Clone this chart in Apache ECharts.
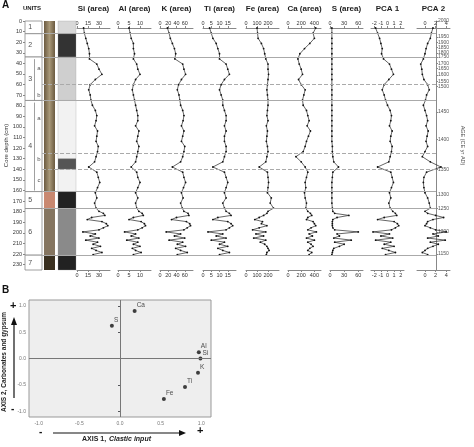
<!DOCTYPE html>
<html><head><meta charset="utf-8">
<script src="https://cdn.jsdelivr.net/npm/echarts@6/dist/echarts.min.js"></script>
<style>html,body{margin:0;padding:0;background:#fff}#c{width:474px;height:447px}</style>
</head><body><div id="c"></div>
<script>
const depths = [0,5,10,15,20,25,30,35,40,45,50,55,60,65,70,75,80,85,90,95,100,105,110,115,120,125,130,135,140,145,150,155,160,165,170,175,
178,180,182,184,186,188,190,192,194,196,198,200,202,204,206,208,210,212,214,216,218,220];
const si = [9,10,12,14,16,17,17,27,30,34,25,18,16,18,19,21,25,27,26,24,28,27,26,29,28,26,24,16,27,29,31,28,25,27,24,26,
30,36,38,20,14,34,40,42,36,30,8,25,18,30,12,28,22,32,20,26,34,22];
const al = [5,5.5,6,7,7,7.5,7,8.5,9,10,8,7,6.5,7,7.5,8,8.5,9,9,8,9.5,9,8.5,9.5,9,8.5,8,6,8.5,9,10,9,8,9,8,8.5,
9.5,11,11.5,7,5,10.5,12,12.5,11,9,3,8,6,9.5,4,9,7,10,6.5,8,10.5,7];
const k = [18,22,25,30,35,38,36,55,58,62,52,45,42,46,48,50,55,58,56,52,58,55,52,60,58,55,50,30,55,58,62,57,52,56,50,54,
58,68,70,40,28,64,72,74,66,58,15,50,35,60,22,55,42,62,38,50,66,42];
const ti = [4,5,6,8,9,10,10,14,15,16,13,11,10,11,12,12,13,14,14,13,14,13,13,14,14,13,12,6,13,14,15,14,13,14,12,13,
14,16,17,9,6,15,17,18,16,14,3,12,8,14,5,13,10,15,9,12,16,10];
const fe = [100,105,110,140,160,170,180,200,200,205,200,195,190,195,200,200,195,190,200,185,195,190,185,195,200,190,180,120,195,200,205,200,195,230,220,250,
200,190,160,120,80,150,140,190,120,60,180,90,160,70,180,130,170,190,200,210,190,185];
const ca = [420,380,400,330,250,180,150,170,200,220,160,200,260,240,220,230,280,300,320,290,340,310,280,260,230,120,200,260,300,280,260,270,250,260,280,270,
300,340,360,300,280,380,400,420,350,300,430,320,370,280,400,300,350,380,330,300,360,320];
const s = [4,4,4,4,4,4,4,4,4,4,4,4,4,4,4,4,4,4,4,4,4,4,4,5,5,6,8,18,6,5,4,4,4,4,4,5,
6,10,40,15,6,5,5,5,6,10,60,15,20,8,45,10,30,20,8,6,5,4];
const pca1 = [-1.8,-1.5,-1.2,-1,-0.8,-0.9,-0.6,0.3,0.6,0.9,0.2,-0.5,-0.8,-0.5,-0.3,0,0.4,0.6,0.5,0.3,0.7,0.5,0.4,0.7,0.6,0.4,0.2,-1.5,0.5,0.7,0.9,0.6,0.3,0.5,0.2,0.4,
0.8,1.2,1.4,-0.5,-1.5,1.0,1.5,1.7,1.2,0.6,-2.2,0.3,-1,0.8,-1.8,0.5,-0.5,1.0,-0.8,0.2,1.2,-0.3];
const pca2 = [1.5,1.2,1.0,0.5,0.2,0,-0.3,-0.8,-0.6,-0.5,-0.2,0.5,0.8,0.3,0.1,-0.3,0,0.3,0.5,0.2,0.6,0.4,0.2,0.5,0,-0.5,1.0,3.0,0.3,-0.2,-0.3,-0.2,0,0.5,0.8,1.0,
0,0.5,2.0,3.5,1.5,0.5,0.3,0,1,2,4,1.5,2.5,0.5,3.8,1,2.5,1.5,0.5,0,-0.5,0.5];
const panelTitles = ['Si (area)','Al (area)','K (area)','Ti (area)','Fe (area)','Ca (area)','S (area)','PCA 1','PCA 2'];
const panelData = [si,al,k,ti,fe,ca,s,pca1,pca2];
const panelMin = [0,0,0,0,0,0,0,-2.5,-1.5];
const panelMax = [45,15,80,20,300,500,70,2.5,4.7];
const panelTicks = [[0,15,30],[0,5,10],[0,20,40,60],[0,5,10,15],[0,100,200],[0,200,400],[0,30,60],[-2,-1,0,1,2],[0,2,4]];
const panelLeft = [77,118,160,203,246,288,330,371,417];
const solidBounds = [12,34,75,161,177,221];
const dashedBounds = [60,125,140];
const ageDepths = [0,15,20,25,30,34,40,45,51,57,62,86,112,140,164,177,199,220];
const ageLabels = ['2000','1950','1900','1850','1800','1750','1700','1650','1600','1550','1500','1450','1400','1350','1300','1250','1200','1150'];
const depthTicks = [0,10,20,30,40,50,60,70,80,90,100,110,120,130,140,150,160,170,180,190,200,210,220,230];
const units = [['1',0,12],['2',12,34],['3',34,75],['4',75,161],['5',161,177],['6',177,221],['7',221,235]];
const subUnits = [['a',45],['b',70],['a',92],['b',131],['c',150]];
const subBrackets = [[36,75],[77,160]];
const litho = [[0,12,'#d8d8d8'],[12,34,'#333'],[34,75,'#cfcfcf'],[75,130,'#f2f2f2'],[130,140,'#555'],[140,161,'#f2f2f2'],[161,177,'#222'],[177,221,'#8a8a8a'],[221,235,'#222']];
const pcaNames = ['Ca','S','Al','Si','K','Ti','Fe'];
const pcaX = [0.18,-0.1,0.97,0.99,0.96,0.8,0.54];
const pcaY = [0.9,0.62,0.12,0.0,-0.27,-0.54,-0.77];

const TOP=21, H=249, FONT='Liberation Sans';
const grid=[], xAxis=[], yAxis=[], series=[];
const dy = {type:'value',inverse:true,min:0,max:235,show:false};
grid.push({left:42,right:22,top:TOP,height:H});
xAxis.push({type:'value',gridIndex:0,min:0,max:1,show:false});
yAxis.push(Object.assign({gridIndex:0},dy));
yAxis.push({type:'value',gridIndex:0,inverse:true,min:0,max:235,position:'right',
  axisLine:{show:true,lineStyle:{color:'#888'}},axisTick:{length:2,customValues:ageDepths},
  axisLabel:{fontSize:5,color:'#555',margin:2,customValues:ageDepths,formatter:v=>ageLabels[ageDepths.indexOf(v)]||''},
  splitLine:{show:false},name:'AGE (CE yr AD)',nameLocation:'middle',nameGap:15,nameRotate:-90,nameTextStyle:{fontSize:5.5,color:'#555'}});
series.push({type:'line',xAxisIndex:0,yAxisIndex:0,data:[],silent:true,
  markLine:{symbol:'none',silent:true,label:{show:false},data:[
    ...solidBounds.map(d=>({yAxis:d,lineStyle:{color:'#aaa',type:'solid',width:1}})),
    ...dashedBounds.map(d=>({yAxis:d,lineStyle:{color:'#aaa',type:'dashed',width:1}}))]}});
grid.push({left:25,width:17,top:TOP,height:H});
xAxis.push({type:'value',gridIndex:1,min:0,max:1,show:false});
yAxis.push({type:'value',gridIndex:1,inverse:true,min:0,max:235,position:'left',
  axisLine:{show:false},axisTick:{show:true,length:2,lineStyle:{color:'#888'},customValues:depthTicks},
  axisLabel:{show:true,fontSize:5.5,color:'#333',margin:3,customValues:depthTicks},
  splitLine:{show:false},name:'Core depth (cm)',nameLocation:'middle',nameGap:14,nameRotate:90,nameTextStyle:{fontSize:6,color:'#333'}});
series.push({type:'scatter',xAxisIndex:1,yAxisIndex:2,symbolSize:0,silent:true,
  data:units.map(u=>({value:[0.3,(u[1]+u[2])/2],label:{show:true,formatter:u[0],fontSize:7,color:'#222'}})).concat(
       subUnits.map(u=>({value:[0.82,u[1]],label:{show:true,formatter:u[0],fontSize:6,color:'#222'}}))),
  label:{position:'inside'},
  markLine:{symbol:'none',silent:true,label:{show:false},lineStyle:{color:'#888',type:'solid',width:0.8},
    data:subBrackets.map(b=>[{xAxis:0.55,yAxis:b[0]},{xAxis:0.55,yAxis:b[1]}])},
  markArea:{silent:true,itemStyle:{color:'#fff',borderColor:'#888',borderWidth:0.8},
    data:units.map(u=>[{xAxis:0,yAxis:u[1]},{xAxis:1,yAxis:u[2]}])}});
grid.push({left:44,width:11,top:TOP,height:H});
xAxis.push({type:'value',gridIndex:2,min:0,max:1,show:false});
yAxis.push(Object.assign({gridIndex:2},dy));
series.push({type:'line',xAxisIndex:2,yAxisIndex:3,data:[],silent:true,
  markArea:{silent:true,data:[
    [{xAxis:0,yAxis:0,itemStyle:{color:new echarts.graphic.LinearGradient(0,0,1,0,[{offset:0,color:'#6b5a40'},{offset:0.5,color:'#a89878'},{offset:1,color:'#6b5a40'}])}},{xAxis:1,yAxis:161}],
    [{xAxis:0,yAxis:161,itemStyle:{color:'#c98870'}},{xAxis:1,yAxis:177}],
    [{xAxis:0,yAxis:177,itemStyle:{color:'#857560'}},{xAxis:1,yAxis:221}],
    [{xAxis:0,yAxis:221,itemStyle:{color:'#3a3020'}},{xAxis:1,yAxis:235}]]}});
grid.push({left:58,width:18,top:TOP,height:H});
xAxis.push({type:'value',gridIndex:3,min:0,max:1,show:false});
yAxis.push(Object.assign({gridIndex:3},dy));
series.push({type:'line',xAxisIndex:3,yAxisIndex:4,data:[],silent:true,
  markArea:{silent:true,data:litho.map(l=>[{xAxis:0,yAxis:l[0],itemStyle:{color:l[2],borderColor:'#999',borderWidth:0.3}},{xAxis:1,yAxis:l[1]}])}});
panelTitles.forEach((t,i)=>{
  const gi=grid.length;
  grid.push({left:panelLeft[i],width:33,top:TOP,height:H});
  const ax={type:'value',gridIndex:gi,min:panelMin[i],max:panelMax[i],
    axisLine:{show:true,onZero:false,lineStyle:{color:'#888'}},axisTick:{show:true,length:2,customValues:panelTicks[i]},
    axisLabel:{fontSize:5.5,color:'#333',margin:2,customValues:panelTicks[i]},splitLine:{show:false}};
  xAxis.push(Object.assign({},ax,{position:'top',name:t,nameLocation:'middle',nameGap:15,nameTextStyle:{fontSize:8,fontWeight:'bold',color:'#222'}}));
  xAxis.push(Object.assign({},ax,{position:'bottom'}));
  yAxis.push(Object.assign({gridIndex:gi},dy));
  series.push({type:'line',xAxisIndex:xAxis.length-2,yAxisIndex:yAxis.length-1,
    data:depths.map((d,j)=>[panelData[i][j],d]),symbol:'circle',symbolSize:1.8,
    lineStyle:{color:'#222',width:0.7},itemStyle:{color:'#111'},silent:true});
});
const bg=grid.length;
grid.push({left:29,width:182,top:300,height:117,show:true,backgroundColor:'#eeeeee',borderColor:'#999',borderWidth:1});
const bt=[-1,-0.5,0,0.5,1];
xAxis.push({type:'value',gridIndex:bg,min:-1.12,max:1.12,axisLine:{show:false},axisTick:{show:false},
  axisLabel:{fontSize:5,color:'#777',customValues:bt,formatter:v=>v.toFixed(1),margin:4},splitLine:{show:false}});
yAxis.push({type:'value',gridIndex:bg,min:-1.11,max:1.11,axisLine:{show:false},axisTick:{show:true,length:2,customValues:bt},
  axisLabel:{fontSize:5,color:'#777',customValues:bt,formatter:v=>v.toFixed(1),margin:3},splitLine:{show:false}});
series.push({type:'scatter',xAxisIndex:xAxis.length-1,yAxisIndex:yAxis.length-1,symbolSize:4,itemStyle:{color:'#111'},
  data:pcaNames.map((n,i)=>({value:[pcaX[i],pcaY[i]],name:n})),
  label:{show:true,formatter:'{b}',position:[4,-7],fontSize:6.5,color:'#222'},
  markLine:{symbol:'none',silent:true,label:{show:false},lineStyle:{color:'#777',type:'solid',width:1},data:[{xAxis:0},{yAxis:0}]}});

const chart=echarts.init(document.getElementById('c'),null,{renderer:'canvas'});
chart.setOption({animation:false,textStyle:{fontFamily:FONT},grid,xAxis,yAxis,series,
  graphic:[
    {type:'text',left:2,top:0,style:{text:'A',font:'bold 10px '+FONT,fill:'#111'}},
    {type:'text',left:23,top:5,style:{text:'UNITS',font:'bold 6px '+FONT,fill:'#222'}},
    {type:'text',left:2,top:285,style:{text:'B',font:'bold 10px '+FONT,fill:'#111'}},
    {type:'text',left:82,top:436,style:{text:'AXIS 1, ',font:'bold 7px '+FONT,fill:'#222'}},
    {type:'text',left:109,top:436,style:{text:'Clastic input',font:'italic bold 7px '+FONT,fill:'#222'}},
    {type:'line',shape:{x1:53,y1:433,x2:180,y2:433},style:{stroke:'#111',lineWidth:1.2}},
    {type:'polygon',shape:{points:[[186,433],[179,430],[179,436]]},style:{fill:'#111'}},
    {type:'text',left:39,top:427,style:{text:'-',font:'bold 10px '+FONT,fill:'#111'}},
    {type:'text',left:197,top:425,style:{text:'+',font:'bold 11px '+FONT,fill:'#111'}},
    {type:'line',shape:{x1:14,y1:324,x2:14,y2:398},style:{stroke:'#111',lineWidth:1.2}},
    {type:'polygon',shape:{points:[[14,317],[11,325],[17,325]]},style:{fill:'#111'}},
    {type:'text',left:10,top:300,style:{text:'+',font:'bold 11px '+FONT,fill:'#111'}},
    {type:'text',left:11,top:404,style:{text:'-',font:'bold 10px '+FONT,fill:'#111'}},
    {type:'text',x:1,y:412,rotation:Math.PI/2,style:{text:'AXIS 2, Carbonates and gypsum',font:'bold 6.5px '+FONT,fill:'#222'}}
  ]});
</script></body></html>
